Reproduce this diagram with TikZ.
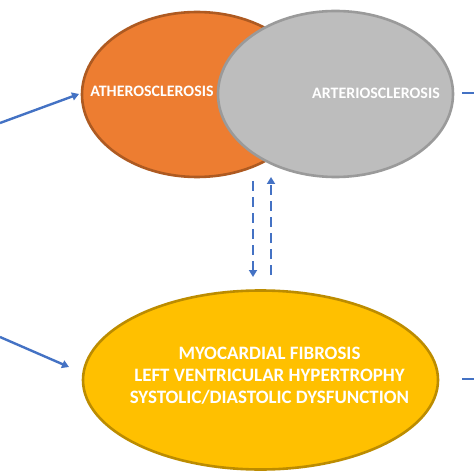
\documentclass[tikz,border=0pt]{standalone}
\usepackage{fontspec}
\setmainfont{Carlito}
\usetikzlibrary{shapes.geometric,arrows.meta}
\definecolor{orfill}{HTML}{ED7D31}
\definecolor{ordraw}{HTML}{AE5A21}
\definecolor{grfill}{HTML}{BDBDBD}
\definecolor{grdraw}{HTML}{9A9A9A}
\definecolor{yefill}{HTML}{FFC000}
\definecolor{yedraw}{HTML}{BC8C00}
\definecolor{arblue}{HTML}{4472C4}
\begin{document}
\begin{tikzpicture}[x=1bp,y=-1bp,
  blob/.style={ellipse,line width=2.6bp,inner sep=0pt},
  lbl/.style={text=white,font=\bfseries\fontsize{16}{22}\selectfont,align=center,inner sep=0pt},
  biglbl/.style={lbl,font=\bfseries\fontsize{19}{22}\selectfont},
  arr/.style={arblue,line width=2.4bp,-{Triangle[length=7bp,width=8bp]}},
  dsh/.style={arblue,line width=2.6bp,dash pattern=on 10bp off 6bp,-{Triangle[length=7bp,width=8bp]}},
  stub/.style={arblue,line width=2.4bp}]
\useasboundingbox[fill=white] (0,0) rectangle (474,474);
\node[blob,fill=orfill,draw=ordraw,minimum width=230bp,minimum height=165bp] (ath) at (197,94.5) {};
\node[blob,fill=grfill,draw=grdraw,minimum width=235bp,minimum height=166bp] (art) at (335.5,94) {};
\node[blob,fill=yefill,draw=yedraw,minimum width=355bp,minimum height=179bp] (myo) at (260.5,380) {};
\node[lbl] (athT) at (152,91) {ATHEROSCLEROSIS};
\node[lbl] (artT) at (376,93) {ARTERIOSCLEROSIS};
\node[biglbl] (myoT) at (269.5,375.5) {MYOCARDIAL FIBROSIS\\LEFT VENTRICULAR HYPERTROPHY\\SYSTOLIC/DIASTOLIC DYSFUNCTION};
% connectors
\coordinate (inA) at (0,123);
\coordinate (inAt) at (79,94);
\draw[arr] (inA) -- (inAt);
\coordinate (inB) at (0,337);
\coordinate (inBt) at (69,367);
\draw[arr] (inB) -- (inBt);
\coordinate (outA) at (462,93);
\coordinate (outAe) at (476,93);
\draw[stub] (outA) -- (outAe);
\coordinate (outB) at (462,379);
\coordinate (outBe) at (476,379);
\draw[stub] (outB) -- (outBe);
\coordinate (dL1) at (253,181);
\coordinate (dL2) at (253,277);
\draw[dsh] (dL1) -- (dL2);
\coordinate (dR1) at (271,275);
\coordinate (dR2) at (271,177);
\draw[dsh] (dR1) -- (dR2);
\end{tikzpicture}
\end{document}
